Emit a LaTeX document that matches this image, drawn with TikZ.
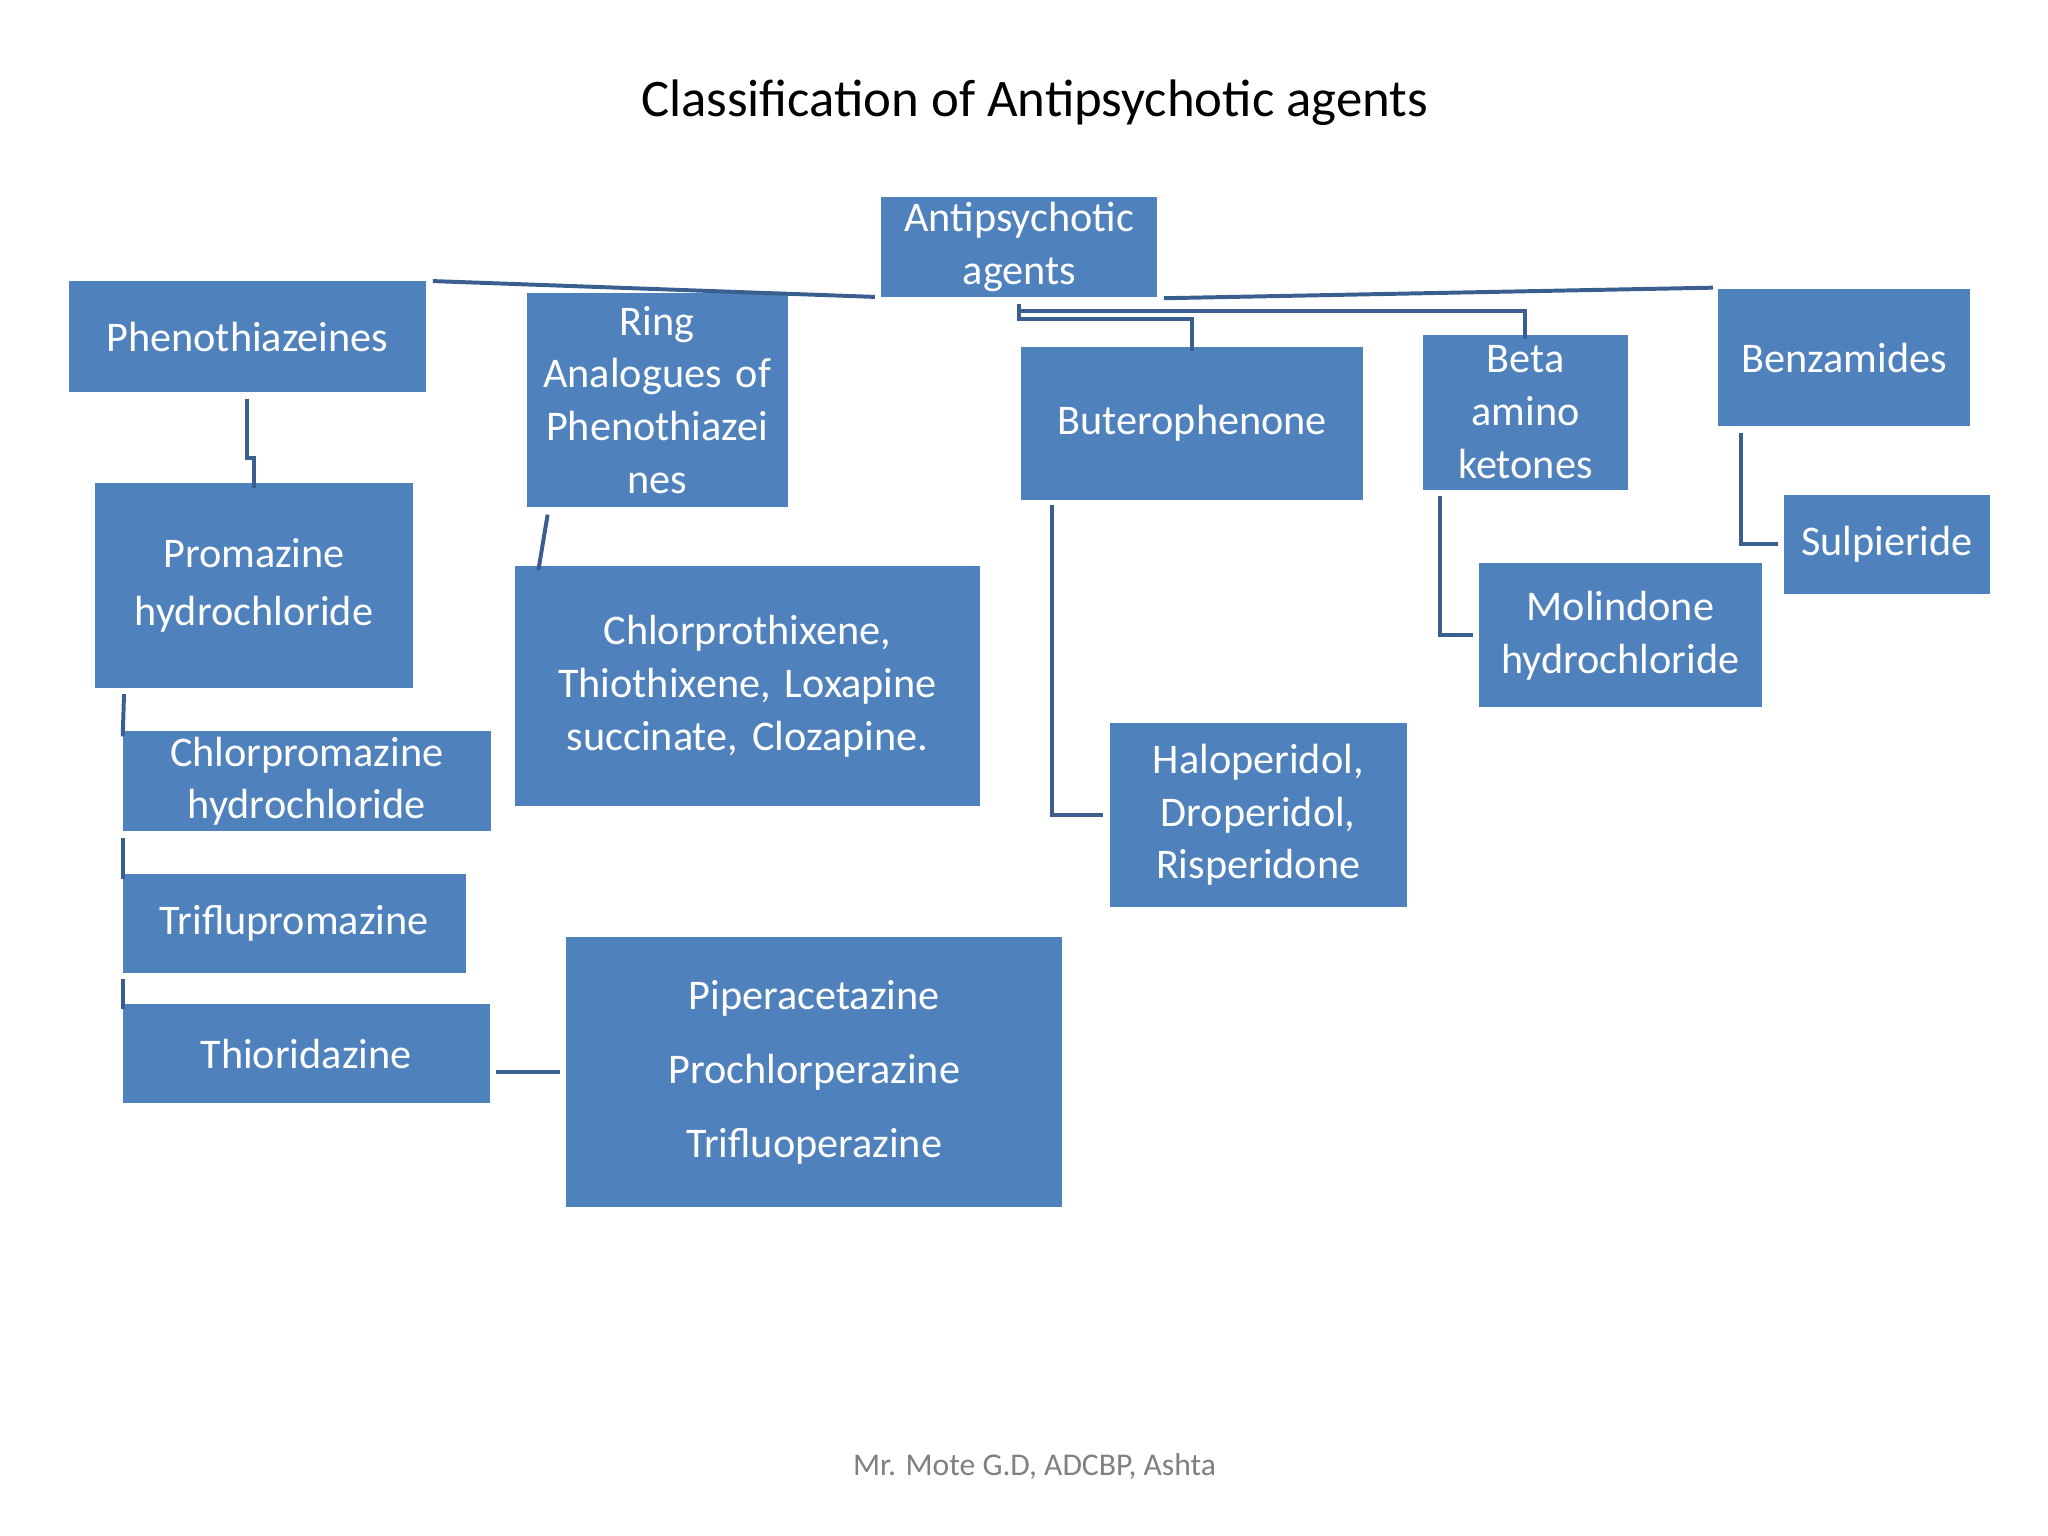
\documentclass[tikz,border=0pt]{standalone}
\usepackage{fontspec}
\setmainfont{Carlito}
\usetikzlibrary{calc}
\definecolor{boxc}{HTML}{4F81BD}
\definecolor{linec}{HTML}{3A5F8F}
\tikzset{box/.style={fill=boxc,draw=white,line width=1pt,text=white,font=\fontsize{32}{40}\selectfont,align=center,anchor=north west,inner sep=0pt},
 conn/.style={draw=linec,line width=3pt}}
\newcommand{\bx}[6]{\node[box,minimum width=#4-#2,minimum height=#5-#3,text width=#4-#2] (#1) at (#2,-#3) {#6};}
\begin{document}
\begin{tikzpicture}[x=1pt,y=1pt]
\useasboundingbox (0,0) rectangle (1552,-1164);
\node[font=\fontsize{40}{48}\selectfont] (title) at (784,-78) {Classification of Antipsychotic agents};
\node[font=\fontsize{24}{28}\selectfont,text=gray] (foot) at (784,-1111) {Mr. Mote G.D, ADCBP, Ashta};
\bx{anti}{667}{148}{877}{225}{Antipsychotic\\agents}
\bx{phen}{51}{212}{323}{297}{Phenothiazeines}
\bx{ring}{398}{221}{597}{384}{Ring\\Analogues of\\Phenothiazei\\nes}
\bx{buter}{773}{262}{1033}{379}{Buterophenone\\[36pt]}
\bx{beta}{1077}{253}{1234}{371}{Beta\\amino\\ketones}
\bx{benz}{1301}{218}{1493}{323}{Benzamides}
\bx{sulp}{1351}{374}{1508}{450}{Sulpieride}
\bx{mol}{1120}{426}{1335}{536}{Molindone\\hydrochloride}
\bx{prom}{71}{365}{313}{521}{Promazine\\[4pt]hydrochloride\\[34pt]}
\bx{chlp}{389}{428}{743}{611}{Chlorprothixene,\\Thiothixene, Loxapine\\succinate, Clozapine.}
\bx{chlz}{92}{553}{372}{630}{Chlorpromazine\\hydrochloride}
\bx{halo}{840}{547}{1066}{687}{Haloperidol,\\Droperidol,\\Risperidone}
\bx{trif}{92}{661}{353}{737}{Triflupromazine}
\bx{thio}{92}{760}{371}{836}{Thioridazine}
\bx{pip}{428}{709}{805}{915}{Piperacetazine\\[16pt]Prochlorperazine\\[16pt]Trifluoperazine\\[60pt]}
\draw[conn] ($(anti.south west)+(-4,1)$) -- ($(phen.north east)+(4,-1)$);
\draw[conn] ($(anti.south east)+(4,0)$) -- ($(benz.north west)+(-3,0)$);
\draw[conn] ($(anti.south)+(0,-4)$) -- ($(anti.south)+(0,-16)$) -| ($(buter.north)+(0,-4)$);
\draw[conn] ($(anti.south)+(0,-10)$) -| ($(beta.north)+(0,-4)$);
\draw[conn] ($(phen.south)+(0,-4)$) |- ++(5,-45) -- ($(prom.north)+(0,-5)$);
\draw[conn] ($(ring.south west)+(17,-5)$) -- ($(chlp.north west)+(19,-4)$);
\draw[conn] ($(prom.south west)+(23,-4)$) -- ($(chlz.north west)+(1,-5)$);
\draw[conn] ($(chlz.south west)+(1,-4)$) -- ($(trif.north west)+(1,-5)$);
\draw[conn] ($(trif.south west)+(1,-4)$) -- ($(thio.north west)+(1,-5)$);
\draw[conn] ($(thio.east)+(4,-14)$) -- ($(pip.west)+(-4,0)$);
\draw[conn] ($(buter.south west)+(24,-3)$) |- ($(halo.west)+(-4,0)$);
\draw[conn] ($(beta.south west)+(14,-4)$) |- ($(mol.west)+(-4,0)$);
\draw[conn] ($(benz.south west)+(18,-4)$) |- ($(sulp.west)+(-4,0)$);
\end{tikzpicture}
\end{document}
